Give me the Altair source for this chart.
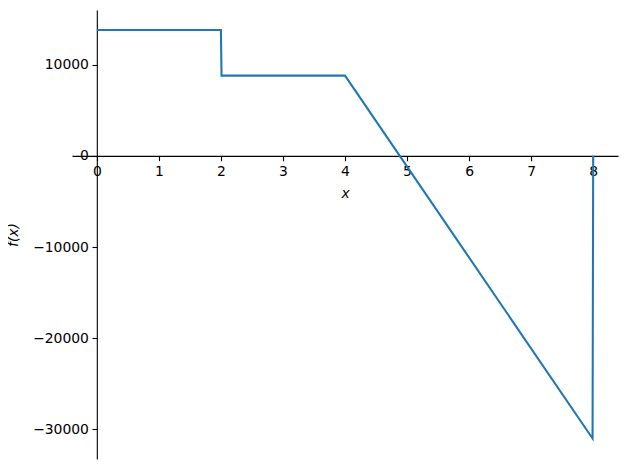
import altair as alt
import pandas as pd

xs = [0.0, 2.0, 2.01, 4.0, 7.99, 8.0]
ys = [13800, 13800, 8800, 8800, -31000, 0]
x_ticks = [0, 1, 2, 3, 4, 5, 6, 7, 8]
y_ticks = [-30000, -20000, -10000, 0, 10000]

df = pd.DataFrame({"x": xs, "y": ys, "order": list(range(len(xs)))})

W, H = 546, 449
xdom = [-0.4, 8.4]
ydom = [-33250, 16000]
y0_px = H * (ydom[1] - 0) / (ydom[1] - ydom[0])
x0_px = W * (0 - xdom[0]) / (xdom[1] - xdom[0])

FONT = "DejaVu Sans"
FS = 13.9

chart = alt.Chart(df).mark_line(color="#1f77b4", strokeWidth=2.08, clip=True).encode(
    x=alt.X("x:Q", scale=alt.Scale(domain=xdom, nice=False, zero=False),
            axis=alt.Axis(values=x_ticks, format="d", grid=False,
                          offset=-(H - y0_px), title="x",
                          titleFontStyle="italic", titleFontWeight="normal",
                          titleFont=FONT, titleFontSize=FS, titleColor="black",
                          titleX=W / 2, titleY=41.5, titleBaseline="alphabetic",
                          labelFont=FONT, labelFontSize=FS, labelColor="black",
                          tickSize=4.86, labelPadding=3.5, tickColor="black",
                          domainColor="black", domainWidth=1.1, tickWidth=1.1,
                          labelFlush=False, labelOverlap=False)),
    y=alt.Y("y:Q", scale=alt.Scale(domain=ydom, nice=False, zero=False),
            axis=alt.Axis(values=y_ticks, format="d", grid=False,
                          offset=-x0_px, title="f(x)",
                          titleFontStyle="italic", titleFontWeight="normal",
                          titleFont=FONT, titleFontSize=FS, titleColor="black",
                          titleX=-79.5, titleY=H / 2, titleAngle=270,
                          titleBaseline="alphabetic", titleAlign="center",
                          labelFont=FONT, labelFontSize=FS, labelColor="black",
                          tickSize=4.86, labelPadding=3.5, tickColor="black",
                          domainColor="black", domainWidth=1.1, tickWidth=1.1,
                          labelFlush=False, labelOverlap=False)),
    order="order:O",
).properties(
    width=W, height=H,
    autosize=alt.AutoSizeParams(type="none"),
    padding={"left": 64, "top": 2, "right": 1, "bottom": 2},
).configure_view(stroke=None)

chart.save("out.html", embed_options={"renderer": "svg", "actions": False})
